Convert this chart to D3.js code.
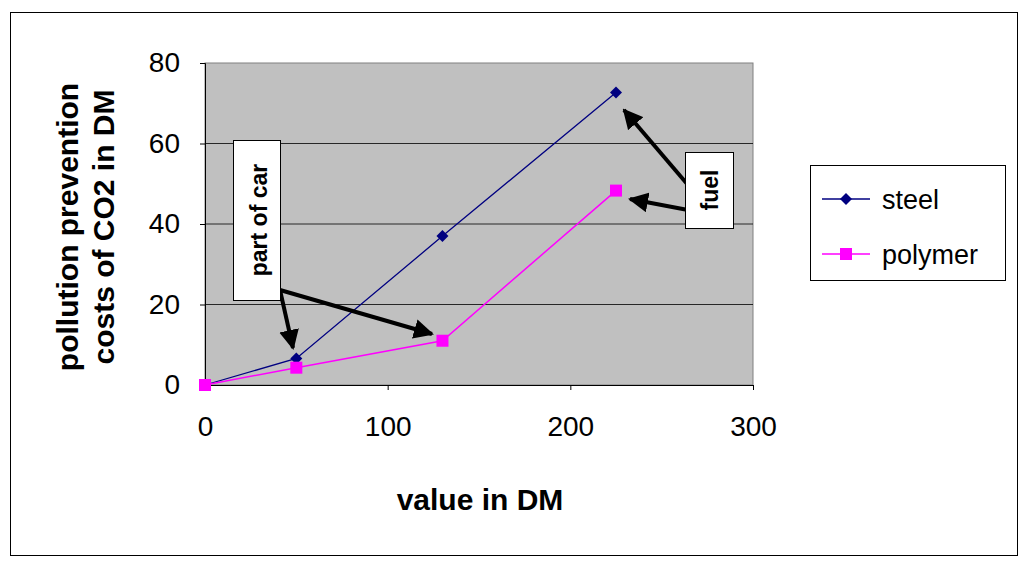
<!DOCTYPE html>
<html><head><meta charset="utf-8">
<script src="https://cdn.jsdelivr.net/npm/d3@7"></script>
<style>body{margin:0;background:#fff}</style></head>
<body><svg id="c" width="1030" height="569"></svg>
<script>
const xValues = [0, 50, 130, 225];
const steel = [0, 6.6, 37, 72.7];
const polymer = [0, 4.3, 11, 48.3];
const xTicks = [0, 100, 200, 300];
const yTicks = [0, 20, 40, 60, 80];
const seriesNames = ["steel", "polymer"];

const svg = d3.select("#c");
const F = "Liberation Sans, Arial, sans-serif";
svg.append("rect").attr("x",10.5).attr("y",12.5).attr("width",1007).attr("height",543).attr("fill","#fff").attr("stroke","#000");
const L=205,R=753,T=63,B=385;
const x=d3.scaleLinear().domain([0,300]).range([L,R]);
const y=d3.scaleLinear().domain([0,80]).range([B,T]);
svg.append("rect").attr("x",L).attr("y",T).attr("width",R-L).attr("height",B-T).attr("fill","#c0c0c0").attr("stroke","#808080");
yTicks.slice(1,-1).forEach(t=>svg.append("line").attr("x1",L).attr("x2",R).attr("y1",y(t)).attr("y2",y(t)).attr("stroke","#000").attr("stroke-width",0.8));
const gx=svg.append("g").attr("transform",`translate(0,${B})`).call(d3.axisBottom(x).tickValues(xTicks).tickSize(5).tickPadding(26));
const gy=svg.append("g").attr("transform",`translate(${L},0)`).call(d3.axisLeft(y).tickValues(yTicks).tickSize(5).tickPadding(20));
[gx,gy].forEach(g=>{g.selectAll("text").attr("font-family",F).attr("font-size",28).attr("fill","#000");g.selectAll("line,path").attr("stroke","#000");});
svg.append("text").attr("x",480).attr("y",510).attr("text-anchor","middle").attr("font-family",F).attr("font-size",30).attr("font-weight","bold").text("value in DM");
const yl=svg.append("text").attr("transform","translate(0,227) rotate(-90)").attr("text-anchor","middle").attr("font-family",F).attr("font-size",30).attr("font-weight","bold");
yl.append("tspan").attr("x",0).attr("y",78).text("pollution prevention");
yl.append("tspan").attr("x",0).attr("y",114).text("costs of CO2 in DM");

const line=d3.line().x((d,i)=>x(xValues[i])).y(d=>y(d));
svg.append("path").attr("d",line(steel)).attr("fill","none").attr("stroke","#000080").attr("stroke-width",1.3);
svg.append("path").attr("d",line(polymer)).attr("fill","none").attr("stroke","#ff00ff").attr("stroke-width",1.5);
const sym=d3.symbol().type(d3.symbolSquare).size(72);
steel.forEach((v,i)=>svg.append("path").attr("d",sym()).attr("transform",`translate(${x(xValues[i])},${y(v)}) rotate(45)`).attr("fill","#000080"));
polymer.forEach((v,i)=>svg.append("rect").attr("x",x(xValues[i])-6).attr("y",y(v)-6).attr("width",12).attr("height",12).attr("fill","#ff00ff"));

// legend
svg.append("rect").attr("x",810.5).attr("y",165.5).attr("width",195).attr("height",115).attr("fill","#fff").attr("stroke","#000");
[["#000080","d"],["#ff00ff","s"]].forEach(([c,t],i)=>{
  const cy=199+i*55;
  svg.append("line").attr("x1",822).attr("x2",870).attr("y1",cy).attr("y2",cy).attr("stroke",c).attr("stroke-width",1.5);
  if(t==="d") svg.append("path").attr("d",sym()).attr("transform",`translate(846,${cy}) rotate(45)`).attr("fill",c);
  else svg.append("rect").attr("x",840).attr("y",cy-6).attr("width",12).attr("height",12).attr("fill",c);
  svg.append("text").attr("x",882).attr("y",cy+10).attr("font-family",F).attr("font-size",27).text(seriesNames[i]);
});

// annotations
const defs=svg.append("defs");
defs.append("marker").attr("id","ah").attr("viewBox","0 0 10 10").attr("refX",9).attr("refY",5).attr("markerWidth",5).attr("markerHeight",5).attr("orient","auto").append("path").attr("d","M0,0L10,5L0,10z").attr("fill","#000");
function arrow(x1,y1,x2,y2){svg.append("line").attr("x1",x1).attr("y1",y1).attr("x2",x2).attr("y2",y2).attr("stroke","#000").attr("stroke-width",4).attr("marker-end","url(#ah)");}
arrow(280,290,293,348);
arrow(280,290,432,334);
arrow(688,185,624,110);
arrow(688,210,630,199);
svg.append("rect").attr("x",233.5).attr("y",140.5).attr("width",47).attr("height",160).attr("fill","#fff").attr("stroke","#000");
svg.append("text").attr("transform","translate(267,220) rotate(-90)").attr("text-anchor","middle").attr("font-family",F).attr("font-size",23).attr("font-weight","bold").text("part of car");
svg.append("rect").attr("x",685.5).attr("y",152.5).attr("width",48).attr("height",76).attr("fill","#fff").attr("stroke","#000");
svg.append("text").attr("transform","translate(718,190) rotate(-90)").attr("text-anchor","middle").attr("font-family",F).attr("font-size",23).attr("font-weight","bold").text("fuel");
</script></body></html>
